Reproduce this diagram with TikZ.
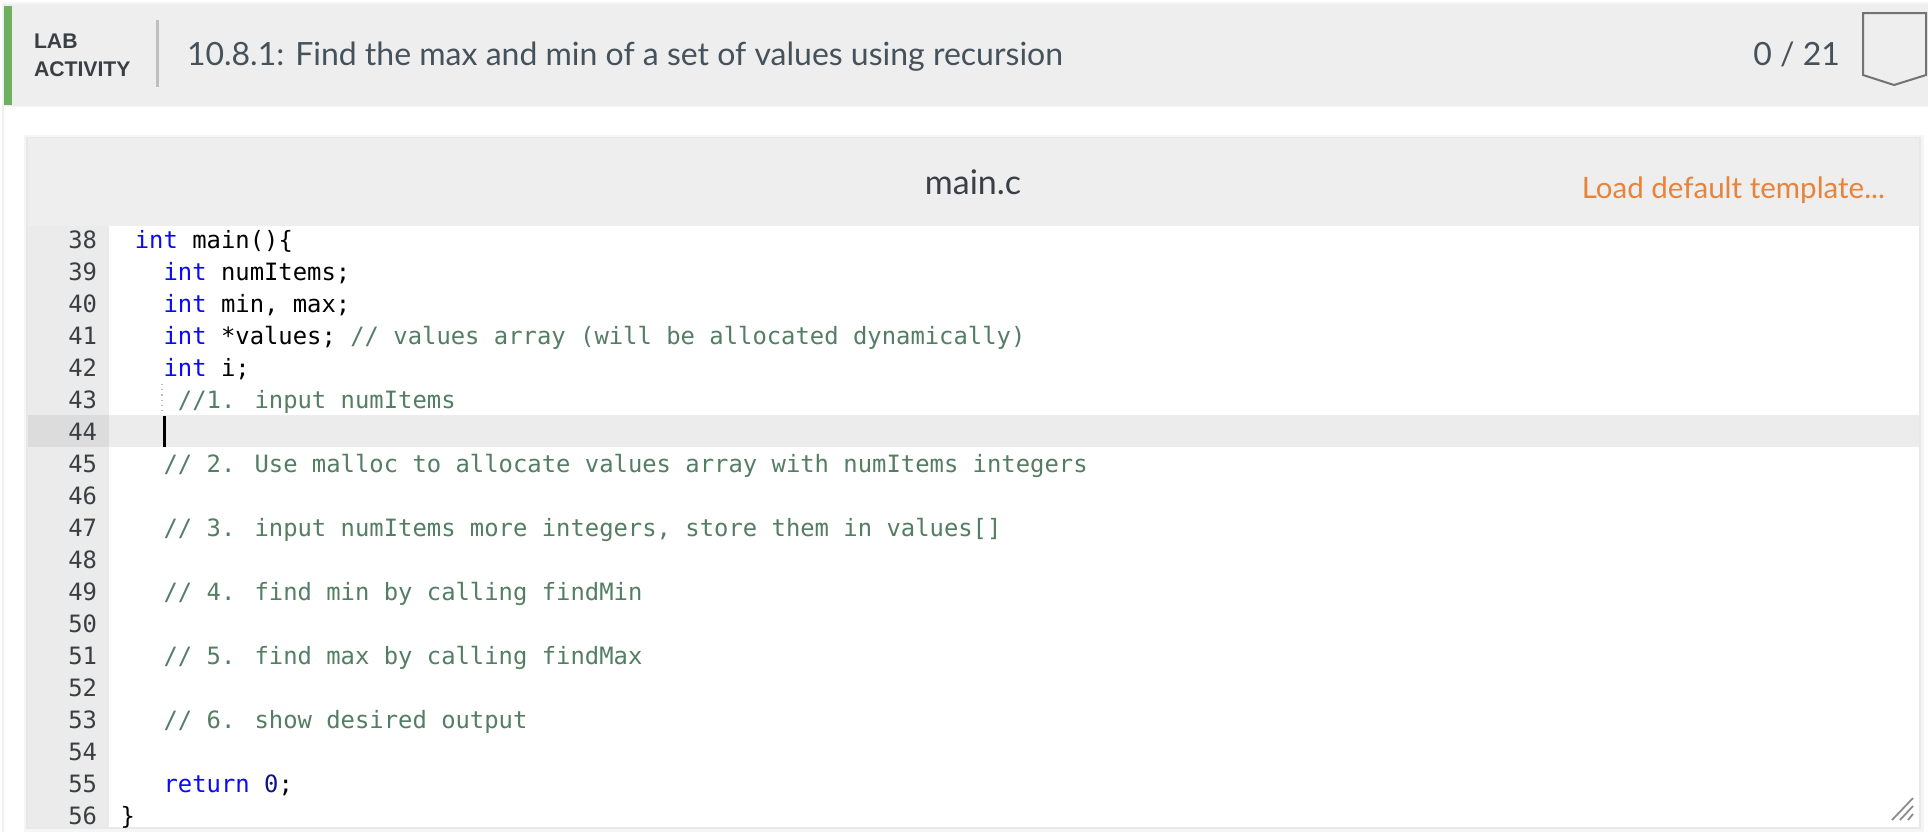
\documentclass[tikz,border=0pt]{standalone}
\usepackage{fontspec}
\setmainfont{Lato}
\newfontfamily\codefont{DejaVu Sans Mono}
\newfontfamily\labfont{Liberation Sans}
\usetikzlibrary{positioning}
\definecolor{headgray}{HTML}{EEEEEE}
\definecolor{guttergray}{HTML}{EBEBEB}
\definecolor{activegray}{HTML}{DCDCDC}
\definecolor{bandgray}{HTML}{ECECEC}
\definecolor{labgreen}{HTML}{6DB05E}
\definecolor{inkgray}{HTML}{3A3F44}
\definecolor{slate}{HTML}{46525B}
\definecolor{loadorange}{HTML}{E8833A}
\definecolor{kwblue}{HTML}{0A0AF5}
\definecolor{numblue}{HTML}{101090}
\definecolor{cmtgreen}{HTML}{547E64}
\tikzset{
  basic/.style    = {inner sep=0pt, outer sep=0pt},
  labtext/.style  = {basic, anchor=base west, font=\labfont\bfseries\fontsize{10.6}{12}\selectfont, text=inkgray},
  headtext/.style = {basic, font=\fontsize{16}{19}\selectfont, text=slate},
  filetext/.style = {basic, anchor=base, font=\fontsize{17}{19}\selectfont, text=inkgray},
  loadtext/.style = {basic, anchor=base east, font=\fontsize{14.75}{17}\selectfont, text=loadorange},
  linenum/.style  = {basic, anchor=base east, font=\codefont\fontsize{11.93}{14}\selectfont, text=inkgray},
  codeline/.style = {basic, anchor=base west, font=\codefont\fontsize{11.93}{14}\selectfont, text=black},
  badge/.style    = {draw=black!55, line width=1pt, fill=headgray, line join=miter}
}
\newcommand\kwd[1]{\textcolor{kwblue}{#1}}
\newcommand\cmnt[1]{\textcolor{cmtgreen}{#1}}
\newcommand\cw{14.36}

\begin{document}
\begin{tikzpicture}[x=0.5pt, y=-0.5pt]
\useasboundingbox (0,0) rectangle (1928,832);
\fill[white] (0,0) rectangle (1928,832);

% header bar of the lab activity
\fill[black!4] (2,2) rectangle (1928,107);
\fill[headgray] (3,4) rectangle (1928,106);
\fill[labgreen] (4,6) rectangle (12,105);
\draw[black!6, line width=1pt] (3,106) -- (3,832);
\node[labtext] (lab) at (34,48) {LAB};
\node[labtext] (act) at (34,76) {ACTIVITY};
\draw[black!25, line width=1.5pt] (157,20) -- (157,87);
\node[headtext, anchor=base west] (title) at (187,65) {10.8.1: Find the max and min of a set of values using recursion};
\node[headtext, anchor=base east] (score) at (1840,65) {0 / 21};
\draw[badge] (1863,13) -- (1926,13) -- (1926,75) -- (1894,85) -- (1863,75) -- cycle;

% editor panel
\fill[black!4] (24,135) rectangle (1924,832);
\fill[black!9] (26,137) rectangle (1921,829);
\fill[white] (28,138) rectangle (1919,827);
\fill[headgray] (28,138) rectangle (1919,226);
\node[filetext] (file) at (973,194) {main.c};
\node[loadtext] (load) at (1885,198) {Load default template...};

% gutter and active line
\fill[guttergray] (28,226) rectangle (109,827);
\fill[activegray] (28,415) rectangle (109,447);
\fill[bandgray] (109,415) rectangle (1919,447);
\draw[black!25, line width=0.6pt, dotted] (162,384) -- (162,415);
\fill[black] (163,416) rectangle (166,447);

\begin{scope}
\clip (28,226) rectangle (1919,827);
\foreach \n in {38,...,56}
  \node[linenum] (l\n) at (97,{248+(\n-38)*32}) {\n};

% the code lines
\node[codeline] (c38) at ({120.5+1*\cw},248) {\kwd{int} main()\{};
\node[codeline] (c39) at ({120.5+3*\cw},280) {\kwd{int} numItems;};
\node[codeline] (c40) at ({120.5+3*\cw},312) {\kwd{int} min, max;};
\node[codeline] (c41) at ({120.5+3*\cw},344) {\kwd{int} *values; \cmnt{// values array (will be allocated dynamically)}};
\node[codeline] (c42) at ({120.5+3*\cw},376) {\kwd{int} i;};
\node[codeline] (c43) at ({120.5+4*\cw},408) {\cmnt{//1. input numItems}};
\node[codeline] (c45) at ({120.5+3*\cw},472) {\cmnt{// 2. Use malloc to allocate values array with numItems integers}};
\node[codeline] (c47) at ({120.5+3*\cw},536) {\cmnt{// 3. input numItems more integers, store them in values[]}};
\node[codeline] (c49) at ({120.5+3*\cw},600) {\cmnt{// 4. find min by calling findMin}};
\node[codeline] (c51) at ({120.5+3*\cw},664) {\cmnt{// 5. find max by calling findMax}};
\node[codeline] (c53) at ({120.5+3*\cw},728) {\cmnt{// 6. show desired output}};
\node[codeline] (c55) at ({120.5+3*\cw},792) {\kwd{return} \textcolor{numblue}{0};};
\node[codeline] (c56) at (120.5,824) {\}};
\end{scope}

% resize grip
\foreach \d in {0,8,16}
  \draw[black!45, line width=0.9pt] ({1892+\d},820) -- (1913,{798+\d});
\end{tikzpicture}
\end{document}
